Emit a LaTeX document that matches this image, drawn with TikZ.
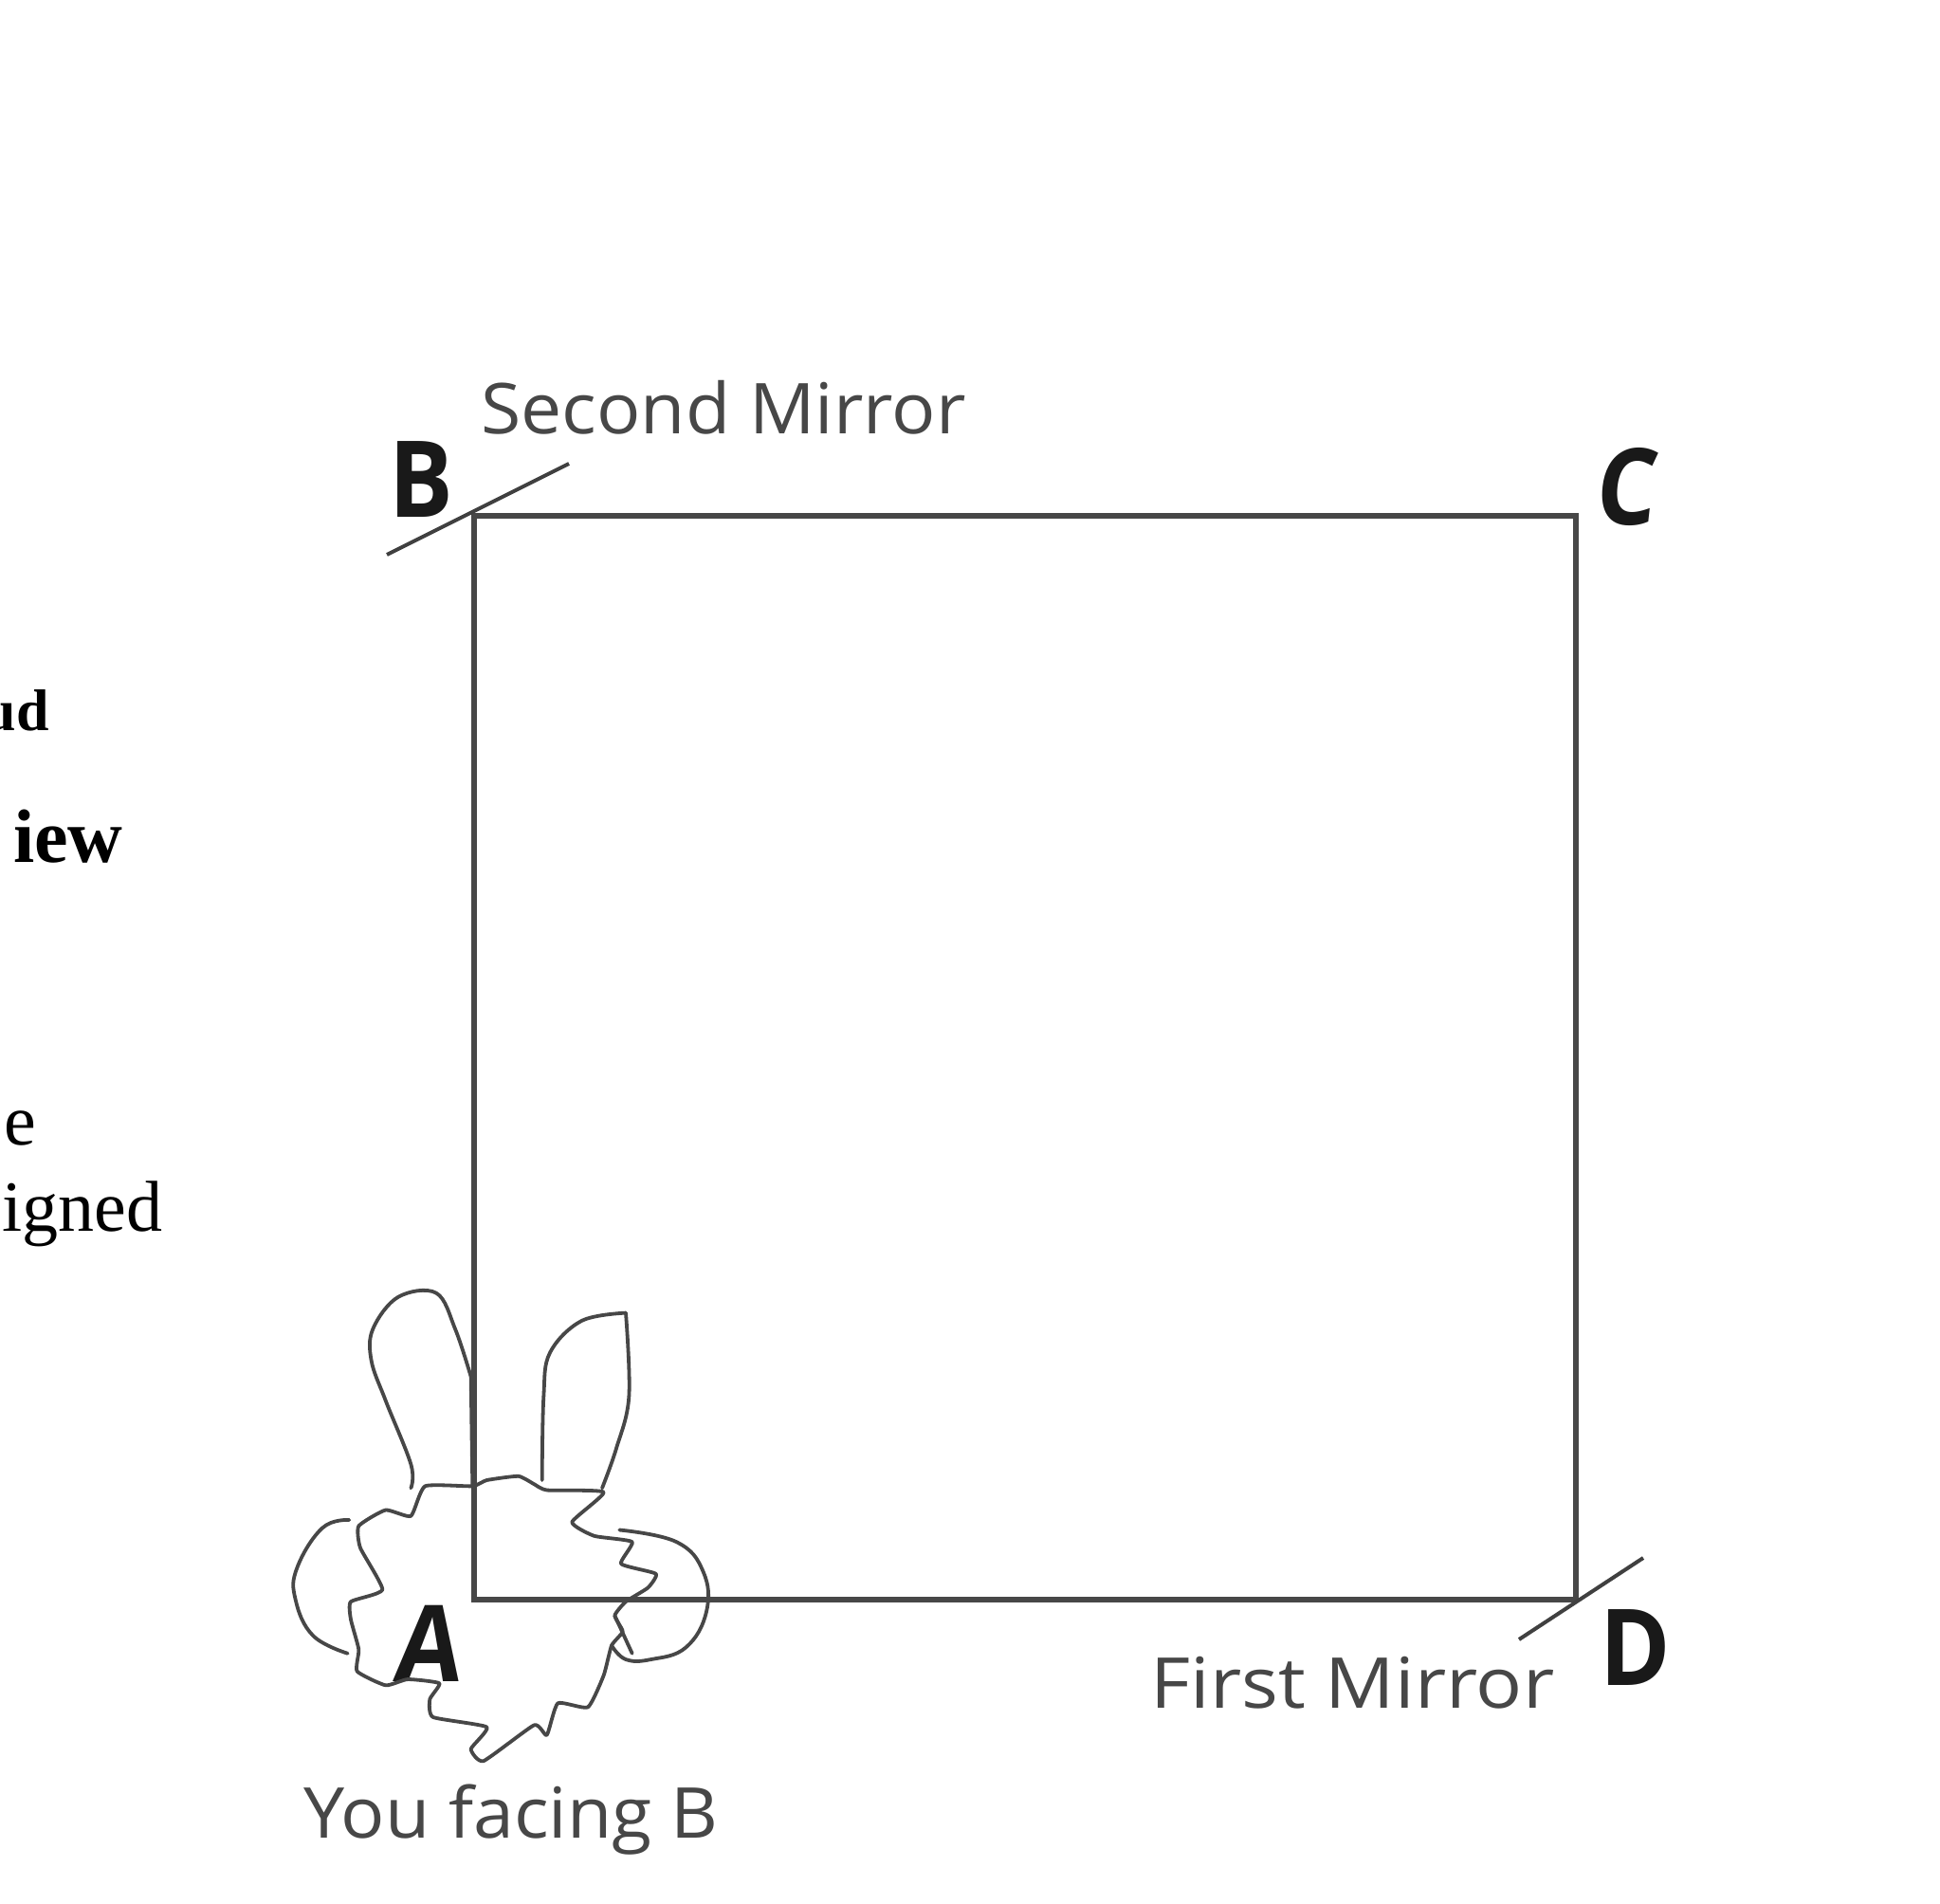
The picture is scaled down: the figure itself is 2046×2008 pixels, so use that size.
\documentclass[tikz,border=0pt]{standalone}
\usepackage{fontspec}
\setmainfont{Liberation Serif}
\newfontfamily\labelfont{Open Sans}
\tikzset{
  wall/.style={draw=black!72,line width=2.6pt,line join=miter},
  mirror/.style={draw=black!75,line width=2pt},
  sketch/.style={draw=black!72,line width=1.9pt,line join=round,line cap=round},
  corner/.style={inner sep=0pt,text=black!90,font=\labelfont\bfseries\fontsize{56}{56}\selectfont},
  caption/.style={inner sep=0pt,anchor=base west,text=black!72,font=\labelfont\fontsize{37}{37}\selectfont},
  clipped/.style={inner sep=0pt,anchor=base east,text=black,font=\fontsize{#1}{#1}\selectfont},
}
\begin{document}
\begin{tikzpicture}[x=0.5pt,y=-0.5pt]
\useasboundingbox[fill=white] (0,0) rectangle (2046,2008);
\clip (0,0) rectangle (2046,2008);
% square room
\coordinate (pa) at (500,1687);
\coordinate (pb) at (500,544);
\coordinate (pc) at (1662,544);
\coordinate (pd) at (1662,1687);
\draw[wall] (pa) -- (pb) -- (pc) -- (pd) -- cycle;
% mirrors
\coordinate (m2a) at (408,585);
\coordinate (m2b) at (600,489);
\coordinate (m1a) at (1602,1729);
\coordinate (m1b) at (1733,1643);
\draw[mirror] (m2a) -- (m2b);
\draw[mirror] (m1a) -- (m1b);
% labels
\node[corner,xscale=0.9] (lb) at (444,506) {B};
\node[corner,xscale=0.9,xslant=0.12] (lc) at (1717,513) {C};
\node[corner,xscale=0.9] (ld) at (1725,1738) {D};
\node[corner,xscale=0.9,xslant=0.12] (la) at (454,1733) {A};
\node[caption,xscale=1.04] (second) at (507,457) {Second Mirror};
\node[caption,xscale=1.10] (first) at (1213,1801) {First Mirror};
\node[caption,xscale=1.04] (you) at (320,1938) {You facing B};
% cut off text at left edge
\node[clipped=31,font=\bfseries\fontsize{31}{31}\selectfont] (t1) at (52,770) {ud};
\node[clipped=40,font=\bfseries\fontsize{40}{40}\selectfont] (t2) at (130,909) {iew};
\node[clipped=38] (t3) at (39,1207) {e};
\node[clipped=38] (t4) at (172,1298) {igned};
% person seen from above
\begin{scope}[shift={(280,1330)},x=0.16667pt,y=-0.21pt]
\draw[sketch] plot[smooth cycle,tension=0.3] coordinates {
 (505,565) (655,565) (700,550) (800,540) (850,560) (890,575) (1070,580) (970,655)
 (1040,690) (1160,705) (1125,760) (1235,785) (1210,820) (1140,855) (1105,890) (1130,930)
 (1095,965) (1070,1040) (1020,1120) (925,1110) (890,1190) (850,1165) (690,1255) (650,1225)
 (700,1170) (530,1145) (520,1100) (550,1060) (450,1050) (380,1065) (290,1030) (295,975)
 (270,900) (270,855) (370,825) (300,720) (295,665) (380,625) (460,640)};
\draw[sketch] plot[smooth,tension=0.7] coordinates {
 (1120,675) (1300,705) (1385,780) (1395,880) (1330,970) (1220,1000) (1140,1000) (1095,965)};
\draw[sketch] (1105,890) -- (1160,985);
\draw[sketch] plot[smooth,tension=0.7] coordinates {
 (265,650) (180,670) (100,770) (95,850) (150,940) (260,985)};
\draw[sketch] plot[smooth,tension=0.6] coordinates {
 (460,570) (460,510) (380,350) (335,250) (340,170) (420,90) (540,80) (600,170) (650,290)};
\draw[sketch] (650,290) -- (655,565);
\draw[sketch] plot[smooth,tension=0.6] coordinates {
 (875,550) (880,340) (900,230) (1000,150) (1140,130)};
\draw[sketch] plot[smooth,tension=0.6] coordinates {
 (1140,130) (1150,340) (1110,470) (1065,570)};
\end{scope}
\end{tikzpicture}
\end{document}
